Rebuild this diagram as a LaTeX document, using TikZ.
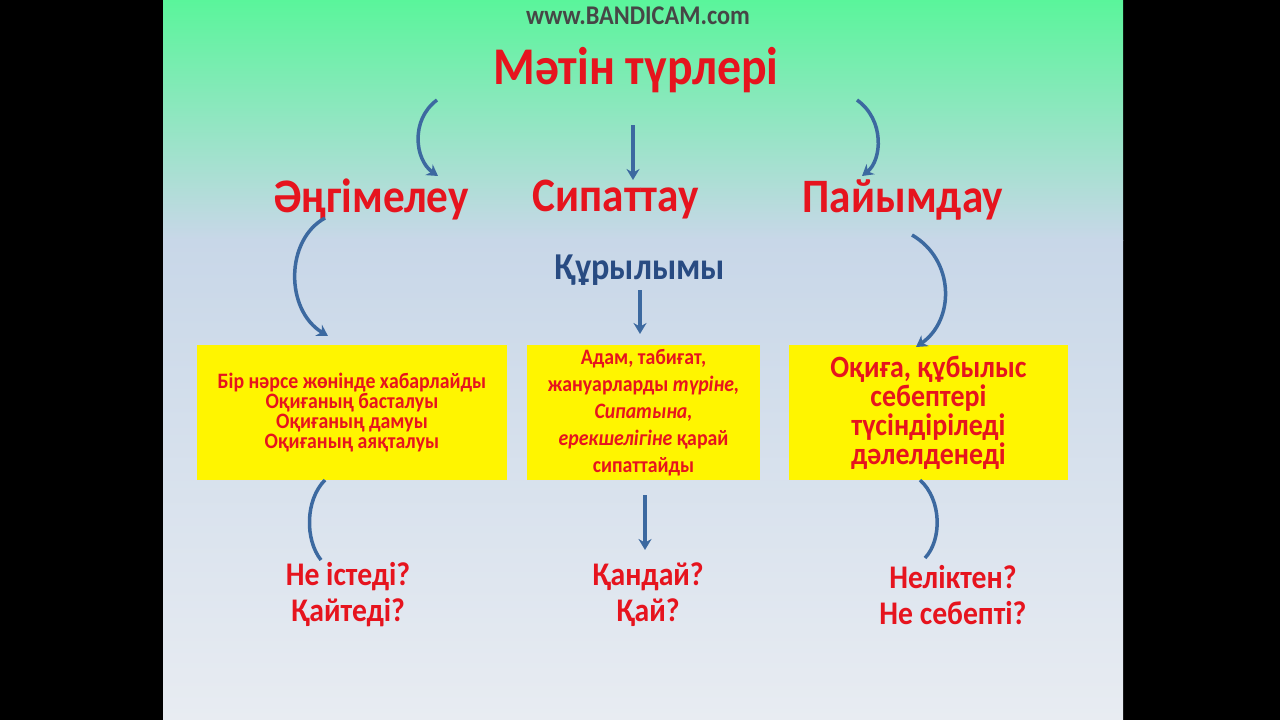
\documentclass[tikz,border=0pt]{standalone}
\usepackage{fontspec}
\setmainfont{Carlito}[FakeStretch=0.9]
\usetikzlibrary{arrows.meta}
\definecolor{tred}{RGB}{230,20,30}
\definecolor{tblue}{RGB}{60,105,160}
\definecolor{tnavy}{RGB}{40,75,130}
\definecolor{ybox}{RGB}{255,245,0}
\tikzset{
  conn/.style={draw=tblue,line width=3.5pt,-{Stealth[length=11pt,width=13pt]}},
  connplain/.style={draw=tblue,line width=3.5pt},
  head/.style={text=tred,font=\bfseries\fontsize{48}{52}\selectfont},
  quest/.style={text=tred,font=\bfseries\fontsize{33}{36}\selectfont,align=center},
  ybx/.style={fill=ybox,text=tred,align=center,inner sep=0pt},
}
\begin{document}
\begin{tikzpicture}[x=1pt,y=1pt]
\useasboundingbox (0,0) rectangle (1280,-720);
\fill[black] (0,0) rectangle (1280,-720);
\shade[top color={rgb,255:red,90;green,245;blue,155},bottom color={rgb,255:red,200;green,215;blue,232}] (163,0) rectangle (1123,-240);
\shade[top color={rgb,255:red,200;green,215;blue,232},bottom color={rgb,255:red,232;green,236;blue,242}] (163,-240) rectangle (1123,-720);
\node (wm) at (638,-16) {\fontsize{27}{28}\selectfont\bfseries\color{gray!55!black}www.BANDICAM.com};
\node[text=tred,font=\bfseries\fontsize{53}{56}\selectfont] (title) at (636,-70) {Мәтін түрлері};
\node[head] (h1) at (371,-200) {Әңгімелеу};
\node[head] (h2) at (616,-200) {Сипаттау};
\node[head] (h3) at (903,-200) {Пайымдау};
\node[text=tnavy,font=\bfseries\fontsize{38}{40}\selectfont] (k) at (640,-270) {Құрылымы};
\node[ybx,minimum width=310,minimum height=135,font=\bfseries\fontsize{22}{20}\selectfont] (b1) at (352,-412.5) {Бір нәрсе жөнінде хабарлайды\\Оқиғаның басталуы\\Оқиғаның дамуы\\Оқиғаның аяқталуы};
\node[ybx,minimum width=233,minimum height=135,font=\bfseries\fontsize{22}{27}\selectfont] (b2) at (643.5,-412.5) {Адам, табиғат,\\жануарларды \textit{түріне,}\\\textit{Сипатына,}\\\textit{ерекшелігіне} қарай\\сипаттайды};
\node[ybx,minimum width=279,minimum height=135,font=\bfseries\fontsize{31}{29}\selectfont] (b3) at (928.5,-412.5) {Оқиға, құбылыс\\себептері\\түсіндіріледі\\дәлелденеді};
\node[quest] (q1) at (348,-595) {Не істеді?\\Қайтеді?};
\node[quest] (q2) at (648,-595) {Қандай?\\Қай?};
\node[quest] (q3) at (953,-595) {Неліктен?\\Не себепті?};
\coordinate (a1s) at (437,-100); \coordinate (a1e) at (438,-176);
\draw[conn] (a1s) .. controls (410,-120) and (415,-160) .. (a1e);
\coordinate (a2s) at (633,-125); \coordinate (a2e) at (633,-180);
\draw[conn] (a2s) -- (a2e);
\coordinate (a3s) at (857,-100); \coordinate (a3e) at (862,-176);
\draw[conn] (a3s) .. controls (885,-120) and (882,-160) .. (a3e);
\coordinate (a4s) at (325,-218); \coordinate (a4e) at (328,-336);
\draw[conn] (a4s) .. controls (285,-240) and (285,-310) .. (a4e);
\coordinate (a5s) at (640,-290); \coordinate (a5e) at (640,-334);
\draw[conn] (a5s) -- (a5e);
\coordinate (a6s) at (912,-235); \coordinate (a6e) at (916,-347);
\draw[conn] (a6s) .. controls (955,-260) and (955,-320) .. (a6e);
\coordinate (a7s) at (325,-480); \coordinate (a7e) at (321,-560);
\draw[connplain] (a7s) .. controls (305,-500) and (305,-540) .. (a7e);
\coordinate (a8s) at (645,-495); \coordinate (a8e) at (645,-550);
\draw[conn] (a8s) -- (a8e);
\coordinate (a9s) at (920,-480); \coordinate (a9e) at (925,-558);
\draw[connplain] (a9s) .. controls (942,-500) and (942,-540) .. (a9e);
\end{tikzpicture}
\end{document}
